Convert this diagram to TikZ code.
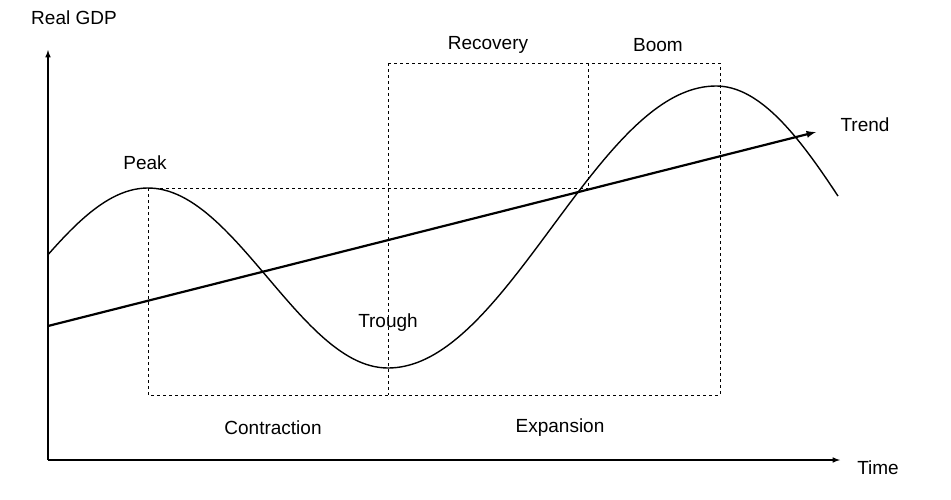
\documentclass[tikz,border=0pt]{standalone}
\usepackage{fontspec}
\setmainfont{Liberation Sans}
\begin{document}
\begin{tikzpicture}[x=1pt,y=-1pt,
  lbl/.style={font=\fontsize{19}{22}\selectfont},
  dsh/.style={dashed,line width=1pt},
  crv/.style={line width=1.4pt},
  ax/.style={line width=1.5pt,-latex}]
\useasboundingbox (0,0) rectangle (951,499);
\coordinate (O) at (48,460);
\coordinate (Ytop) at (48,50);
\coordinate (Xend) at (840,460);
\draw[ax] (O) -- (Ytop);
\draw[ax] (O) -- (Xend);
% dashed boxes
\draw[dsh] (148,188) -- (588,188);
\draw[dsh] (148,188) -- (148,395) -- (720,395);
\draw[dsh] (388,63) -- (388,395);
\draw[dsh] (388,63) -- (720,63) -- (720,395);
\draw[dsh] (588,63) -- (588,188);
% curve
\draw[crv,variable=\t,domain=-0.4167:1,samples=80] plot ({148+240*\t},{278-90*cos(180*\t)});
\draw[crv,variable=\t,domain=0:1,samples=80] plot ({388+328*\t},{227+141*cos(180*\t)});
\draw[crv,variable=\t,domain=0:0.43,samples=40] plot ({716+284*\t},{227-141*cos(180*\t)});
% trend
\coordinate (T0) at (48,326);
\coordinate (T1) at (816,132);
\draw[line width=2.2pt,-latex] (T0) -- (T1);
\node[lbl] (gdp) at (74,18) {Real GDP};
\node[lbl] (time) at (878,468) {Time};
\node[lbl] (peak) at (145,163) {Peak};
\node[lbl] (trough) at (388,323) {Trough};
\node[lbl] (rec) at (488,45) {Recovery};
\node[lbl] (boom) at (658,45) {Boom};
\node[lbl] (trend) at (865,125) {Trend};
\node[lbl] (con) at (273,428) {Contraction};
\node[lbl] (exp) at (560,428) {Expansion};
\end{tikzpicture}
\end{document}
